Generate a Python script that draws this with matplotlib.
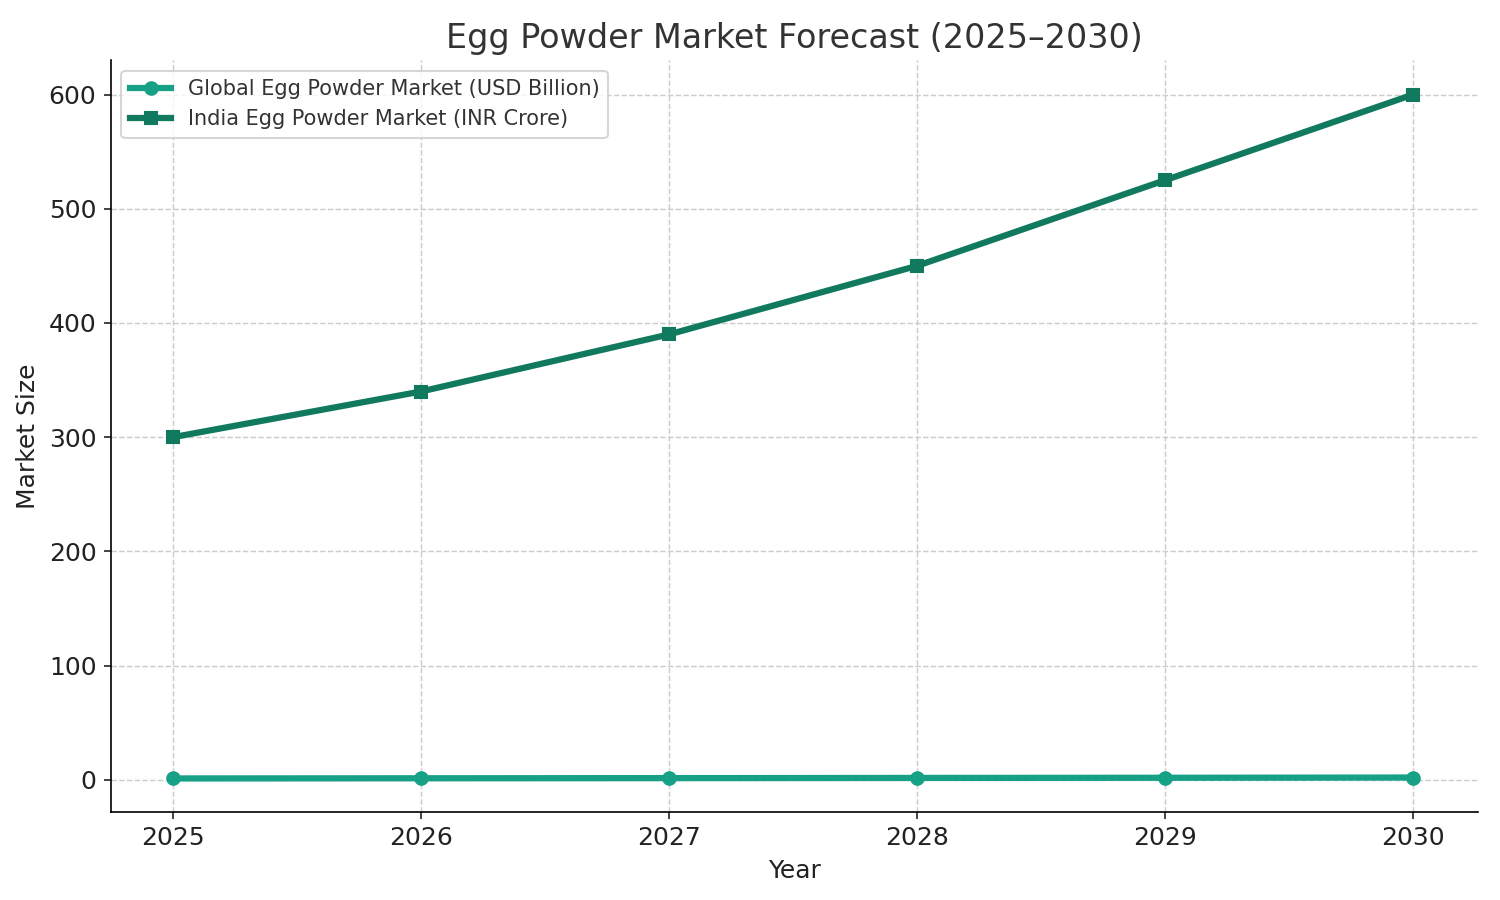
import matplotlib
matplotlib.use("Agg")
import matplotlib.pyplot as plt

years = [2025, 2026, 2027, 2028, 2029, 2030]
global_usd_bn = [1.2, 1.35, 1.5, 1.65, 1.8, 2.0]
india_inr_crore = [300, 340, 390, 450, 525, 600]

fig = plt.figure(figsize=(10, 6), dpi=150)
ax = fig.add_axes([0.074, 0.098, 0.911, 0.835])

ax.plot(years, global_usd_bn, marker='o', color='#16a085', linewidth=3, markersize=6,
        label='Global Egg Powder Market (USD Billion)')
ax.plot(years, india_inr_crore, marker='s', color='#117a5e', linewidth=3, markersize=6,
        label='India Egg Powder Market (INR Crore)')

ax.set_title('Egg Powder Market Forecast (2025–2030)', fontsize=16, color='#333333')
ax.set_xlabel('Year', fontsize=12, color='#222222')
ax.set_ylabel('Market Size', fontsize=12, color='#222222')
ax.set_xticks(years)
ax.tick_params(labelsize=12, colors='#222222')
ax.grid(True, linestyle='--', color='#cccccc', linewidth=0.7)
ax.spines['top'].set_visible(False)
ax.spines['right'].set_visible(False)
ax.set_ylim(-28, 630)
ax.set_xlim(2024.75, 2030.26)
leg = ax.legend(loc='upper left', fontsize=10)
for t in leg.get_texts():
    t.set_color('#333333')

fig.savefig('out.png', dpi=150)
